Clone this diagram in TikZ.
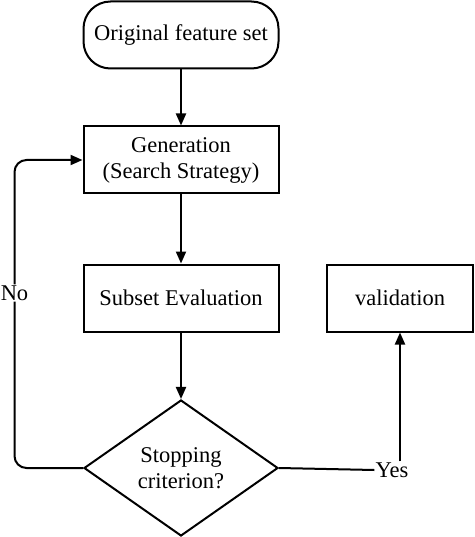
\documentclass[tikz,border=0pt]{standalone}
\usepackage{fontspec}
\setmainfont{Liberation Serif}
\usepackage{tikz}
\usetikzlibrary{arrows.meta, positioning, shapes.geometric}

\tikzset{
  flowbox/.style={draw, line width=2pt, minimum width=195pt, minimum height=67pt, align=center, inner sep=2pt},
  startbox/.style={flowbox, rounded corners=27pt},
  decision/.style={draw, diamond, line width=2pt, minimum width=194pt, minimum height=136pt, align=center, inner sep=0pt},
  flowarrow/.style={line width=2pt, -{Triangle[length=12pt, width=10pt]}},
  flowline/.style={line width=2pt},
  lbl/.style={inner sep=1pt}
}

\begin{document}
\begin{tikzpicture}[x=1pt, y=-1pt, font=\fontsize{22.5}{26}\selectfont]
\useasboundingbox (0,0) rectangle (474,537);
% main column
\node[startbox] (orig) at (181,35) {Original feature set};
\node[flowbox] (gen) at (181,160) {Generation\\(Search Strategy)};
\node[flowbox] (eval) at (181,298) {Subset Evaluation};
\node[decision] (stop) at (181,468) {Stopping\\criterion?};
% right branch
\node[flowbox, minimum width=146pt] (valid) at (400,298) {validation};
\node[lbl] (yes) at (392,470) {Yes};
% loop back
\node[lbl] (no) at (14.5,293) {No};

\draw[flowarrow] (orig) -- (gen);
\draw[flowarrow] (gen) -- (eval);
\draw[flowarrow] (eval) -- (stop);

\draw[flowline, rounded corners=12pt] (stop.west) -| (no.south);
\draw[flowarrow, rounded corners=12pt] (no.north) |- (gen.west);

\draw[flowline] (stop.east) -- (yes.west);
\draw[flowarrow] (yes.north -| valid) -- (valid.south);
\end{tikzpicture}
\end{document}
